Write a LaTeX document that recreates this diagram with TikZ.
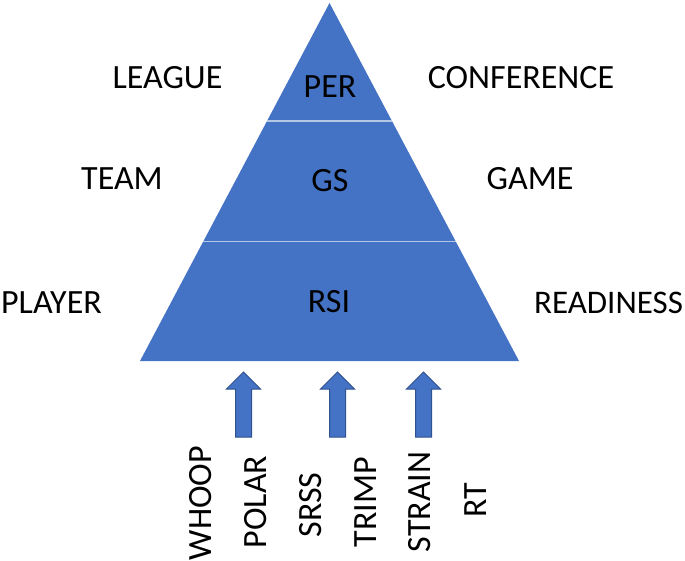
\documentclass[tikz,border=0pt]{standalone}
\usepackage{fontspec}
\setmainfont{Carlito}
\definecolor{pyr}{HTML}{4472C4}
\definecolor{pyredge}{HTML}{2F528F}
\definecolor{sep}{HTML}{B4C7E7}
\begin{document}
\begin{tikzpicture}[x=1pt,y=-1pt,
  lbl/.style={inner sep=0pt,anchor=base,font=\fontsize{34}{40}\selectfont},
  vlbl/.style={lbl,rotate=90},
  blockarrow/.style={fill=pyr,draw=pyredge,line width=1pt,line join=miter},
  sepline/.style={draw=sep,line width=1.6pt}]
\useasboundingbox (0,0) rectangle (685,561);
% pyramid
\fill[pyr] (329.5,3) -- (519,361) -- (140,361) -- cycle;
\coordinate (s1l) at (267.04,121);
\coordinate (s1r) at (391.96,121);
\coordinate (s2l) at (203.26,241.5);
\coordinate (s2r) at (455.74,241.5);
\draw[sepline] (s1l) -- (s1r);
\draw[sepline] (s2l) -- (s2r);
% labels in pyramid
\node[lbl] (per) at (330,98) {PER};
\node[lbl] (gs) at (330,191.5) {GS};
\node[lbl] (rsi) at (329,312.5) {RSI};
% side labels
\node[lbl] (league) at (167.5,89) {LEAGUE};
\node[lbl] (conf) at (521,89) {CONFERENCE};
\node[lbl] (team) at (122,190) {TEAM};
\node[lbl] (game) at (530,190) {GAME};
\node[lbl] (player) at (51.5,313) {PLAYER};
\node[lbl,font=\fontsize{33}{40}\selectfont] (ready) at (608.5,313) {READINESS};
% block arrows
\foreach \cx in {243.5,337.5,423.5}{
  \draw[blockarrow] (\cx,372) -- (\cx+17,389) -- (\cx+8,389) -- (\cx+8,437)
    -- (\cx-8,437) -- (\cx-8,389) -- (\cx-17,389) -- cycle;
}
% vertical labels
\node[vlbl] (whoop) at (211,503) {WHOOP};
\node[vlbl] (polar) at (266,502) {POLAR};
\node[vlbl] (srss) at (321,505) {SRSS};
\node[vlbl] (trimp) at (376,502) {TRIMP};
\node[vlbl] (strain) at (430,502) {STRAIN};
\node[vlbl] (rt) at (486,500) {RT};
\end{tikzpicture}
\end{document}
